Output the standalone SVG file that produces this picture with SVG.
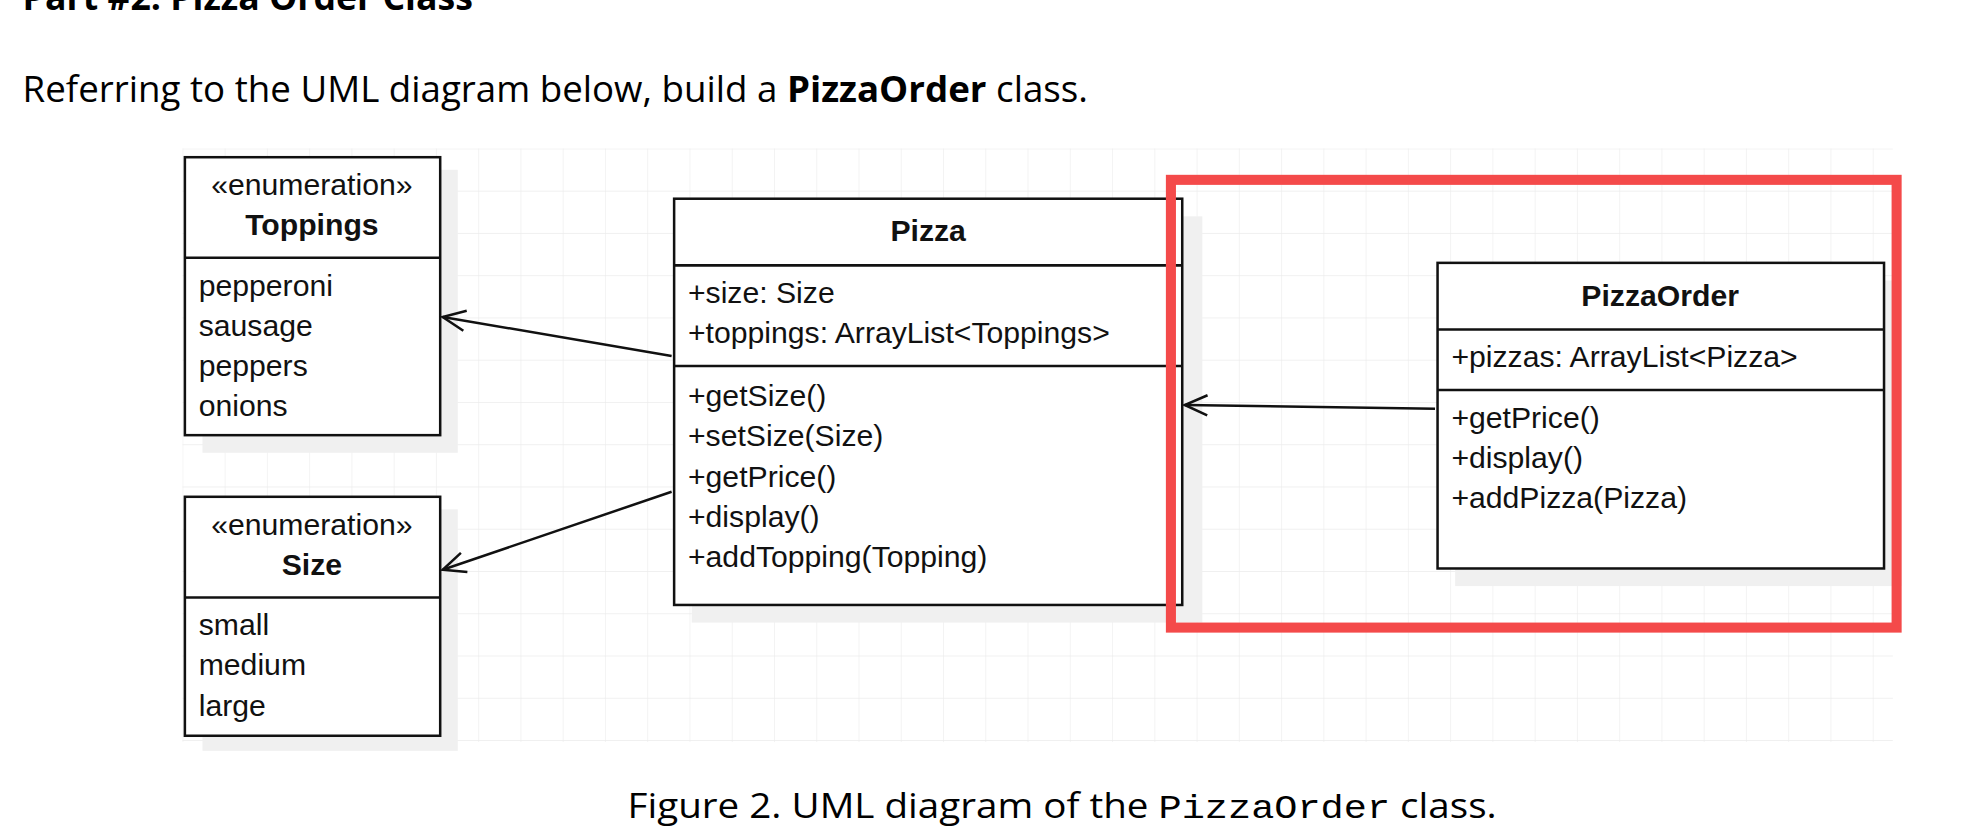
<svg xmlns="http://www.w3.org/2000/svg" width="1962" height="828" viewBox="0 0 1962 828">
<style>
.t{font-family:"Liberation Sans",Arial,sans-serif;font-size:24px;fill:#111}
.b{font-weight:bold}
.box{fill:#fff;stroke:#111;stroke-width:2}
.sh{fill:#f0f0f0}
.ln{stroke:#111;stroke-width:2;fill:none}
.doc{font-family:"Open Sans","Liberation Sans",sans-serif;fill:#000}
</style>
<defs>
<pattern id="grid" width="33.6" height="33.6" patternUnits="userSpaceOnUse" x="145" y="118">
<path d="M0 0H33.6M0 0V33.6" stroke="#ececec" stroke-width="1" fill="none"/>
</pattern>
<path id="ah" d="M18 -8 L0 0 L18 8" fill="none" stroke="#111" stroke-width="2"/>
</defs>
<rect width="1962" height="828" fill="#fff"/>
<g transform="scale(1.2577)">
<text class="doc" x="18" y="8" font-size="28" font-weight="bold" textLength="358" lengthAdjust="spacingAndGlyphs">Part #2:  Pizza Order Class</text>
<text class="doc" x="18" y="81" font-size="29" textLength="847" lengthAdjust="spacingAndGlyphs">Referring to the UML diagram below, build a <tspan font-weight="bold">PizzaOrder</tspan> class.</text>
<rect x="145" y="118" width="1360" height="472" fill="url(#grid)"/>
<g id="toppings">
<rect class="sh" x="161" y="135" width="203" height="225"/>
<rect class="box" x="147" y="125" width="203" height="221"/>
<line class="ln" x1="147" y1="205" x2="350" y2="205"/>
<text class="t" x="248" y="155" text-anchor="middle">«enumeration»</text>
<text class="t b" x="248" y="187" text-anchor="middle">Toppings</text>
<text class="t" x="158" y="235">pepperoni</text>
<text class="t" x="158" y="267">sausage</text>
<text class="t" x="158" y="299">peppers</text>
<text class="t" x="158" y="331">onions</text>
</g>
<g id="size">
<rect class="sh" x="161" y="405" width="203" height="192"/>
<rect class="box" x="147" y="395" width="203" height="190"/>
<line class="ln" x1="147" y1="475" x2="350" y2="475"/>
<text class="t" x="248" y="425" text-anchor="middle">«enumeration»</text>
<text class="t b" x="248" y="457" text-anchor="middle">Size</text>
<text class="t" x="158" y="505">small</text>
<text class="t" x="158" y="537">medium</text>
<text class="t" x="158" y="569">large</text>
</g>
<g id="pizza">
<rect class="sh" x="550" y="172" width="406" height="323"/>
<rect class="box" x="536" y="158" width="404" height="323"/>
<line class="ln" x1="536" y1="211" x2="940" y2="211"/>
<line class="ln" x1="536" y1="291" x2="940" y2="291"/>
<text class="t b" x="738" y="192" text-anchor="middle">Pizza</text>
<text class="t" x="547" y="241">+size: Size</text>
<text class="t" x="547" y="273">+toppings: ArrayList&lt;Toppings&gt;</text>
<text class="t" x="547" y="323">+getSize()</text>
<text class="t" x="547" y="355">+setSize(Size)</text>
<text class="t" x="547" y="387">+getPrice()</text>
<text class="t" x="547" y="419">+display()</text>
<text class="t" x="547" y="451">+addTopping(Topping)</text>
</g>
<g id="pizzaorder">
<rect class="sh" x="1157" y="223" width="355" height="243"/>
<rect class="box" x="1143" y="209" width="355" height="243"/>
<line class="ln" x1="1143" y1="262" x2="1498" y2="262"/>
<line class="ln" x1="1143" y1="310" x2="1498" y2="310"/>
<text class="t b" x="1320" y="243" text-anchor="middle">PizzaOrder</text>
<text class="t" x="1154" y="292">+pizzas: ArrayList&lt;Pizza&gt;</text>
<text class="t" x="1154" y="340">+getPrice()</text>
<text class="t" x="1154" y="372">+display()</text>
<text class="t" x="1154" y="404">+addPizza(Pizza)</text>
</g>
<g id="connectors">
<line class="ln" x1="534" y1="283" x2="352" y2="252"/>
<use href="#ah" transform="translate(352 252) rotate(9.7)"/>
<line class="ln" x1="534" y1="391" x2="352" y2="453"/>
<use href="#ah" transform="translate(352 453) rotate(-18.8)"/>
<line class="ln" x1="1141" y1="325" x2="942" y2="322"/>
<use href="#ah" transform="translate(942 322) rotate(0.9)"/>
</g>
<rect x="931" y="143" width="577" height="356" fill="none" stroke="#f44a4a" stroke-width="8"/>
<text class="doc" x="499" y="650" font-size="27" textLength="691" lengthAdjust="spacingAndGlyphs">Figure 2. UML diagram of the <tspan font-family="Liberation Mono,monospace">PizzaOrder</tspan> class.</text>
</g>
</svg>
